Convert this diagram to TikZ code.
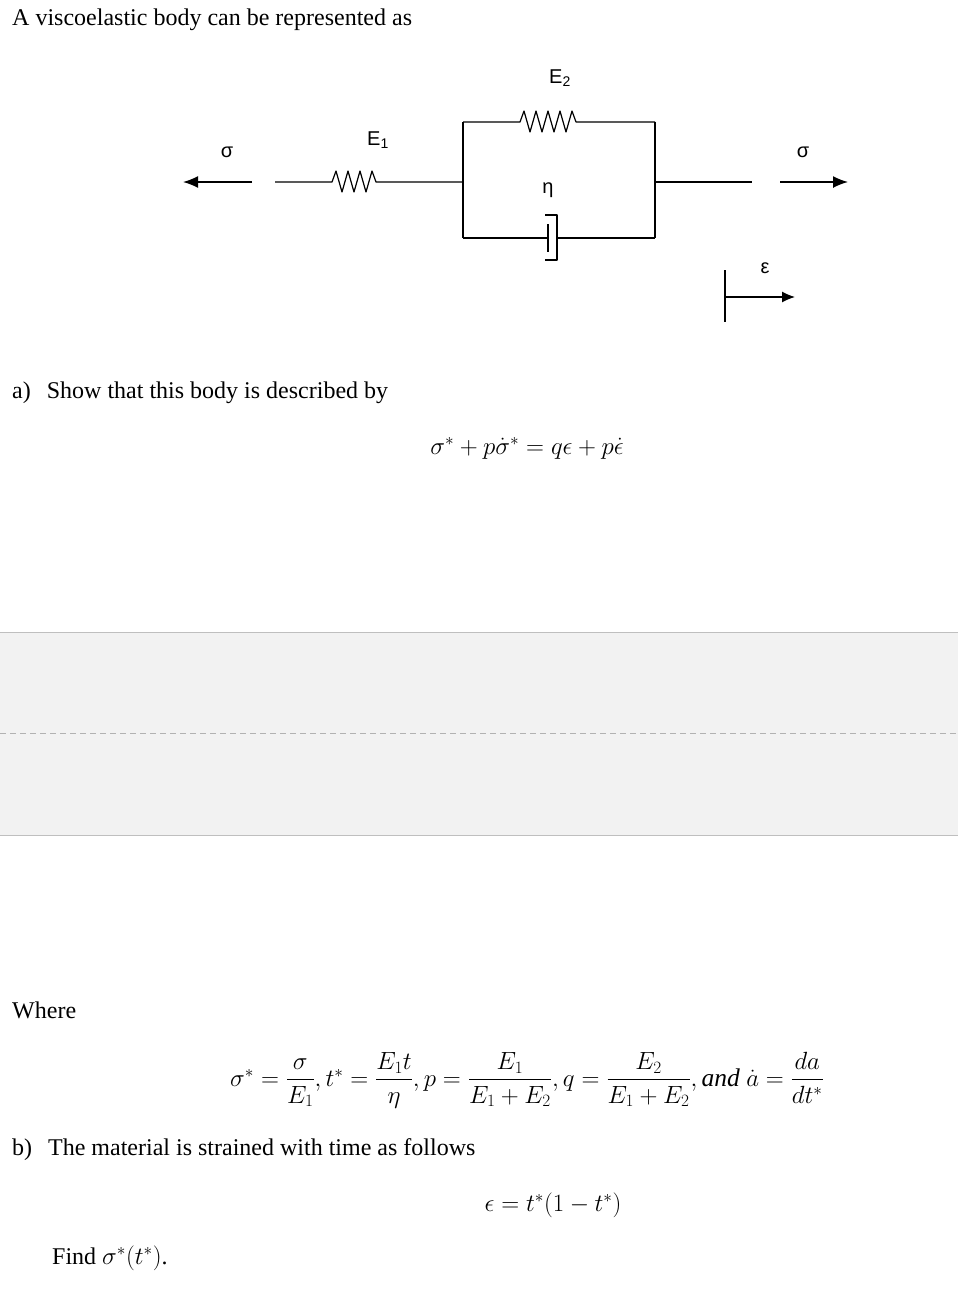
\documentclass[tikz,border=0pt]{standalone}
\usepackage{amsmath}
\usepackage{fontspec}
\setmainfont{Liberation Serif}
\newfontfamily\diag{Liberation Sans}
\usetikzlibrary{arrows.meta}
\begin{document}
\begin{tikzpicture}[x=1pt,y=-1pt,
  txt/.style={anchor=west,inner sep=0pt,font=\fontsize{24}{28}\selectfont},
  mth/.style={inner sep=0pt,font=\fontsize{25.5}{30}\selectfont},
  lbl/.style={inner sep=0pt,font=\diag\fontsize{20}{22}\selectfont},
  wire/.style={line width=1.2pt,line join=round},
  arr/.style={line width=1.5pt,-{Latex[length=15pt,width=12pt]}}]
\useasboundingbox (0,0) rectangle (958,1304);
\fill[white] (0,0) rectangle (958,1304);
% band
\fill[gray!10] (0,632) rectangle (958,835);
\draw[gray!50,line width=1pt] (0,632) -- (958,632) (0,835) -- (958,835);
\draw[gray!60,dashed,dash pattern=on 6pt off 4pt] (0,733) -- (958,733);
% texts
\node[txt] (t1) at (12,20) {A viscoelastic body can be represented as};
\node[txt] (t2) at (12,393) {a)\hspace{16pt}Show that this body is described by};
\node[mth] (e1) at (527,448) {$\sigma^* + p\dot{\sigma}^* = q\epsilon + p\dot{\epsilon}$};
\node[txt] (t3) at (12,1010) {Where};
\node[mth] (e2) at (527,1080) {$\sigma^*=\dfrac{\sigma}{E_1},t^*=\dfrac{E_1t}{\eta},p=\dfrac{E_1}{E_1+E_2},q=\dfrac{E_2}{E_1+E_2},\mathit{and}\ \dot{a}=\dfrac{da}{dt^*}$};
\node[txt] (t4) at (12,1150) {b)\hspace{16pt}The material is strained with time as follows};
\node[mth] (e3) at (553,1205) {$\epsilon=t^*(1-t^*)$};
\node[txt] (t5) at (52,1258) {Find $\sigma^*(t^*)$.};
% diagram
\coordinate (la1) at (252,182); \coordinate (la2) at (183,182);
\draw[arr] (la1) -- (la2);
\coordinate (ra1) at (780,182); \coordinate (ra2) at (848,182);
\draw[arr] (ra1) -- (ra2);
\node[lbl] (s1) at (227,152) {σ};
\node[lbl] (s2) at (803,152) {σ};
\node[lbl] (lE1) at (378,140) {E\textsubscript{1}};
\node[lbl] (lE2) at (560,78) {E\textsubscript{2}};
\node[lbl] (leta) at (548,190) {η};
\node[lbl] (leps) at (765,268) {ε};
% E1 spring line
\draw[wire] (275,182) -- (332,182) -- (336,171) -- (342,192) -- (348,171) -- (354,192) -- (360,171) -- (366,192) -- (372,171) -- (376,182) -- (463,182);
% box
\draw[wire] (463,122) -- (463,238);
\draw[wire] (655,122) -- (655,238);
\draw[wire] (463,122) -- (520,122) -- (524,111) -- (530,132) -- (536,111) -- (542,132) -- (548,111) -- (554,132) -- (560,111) -- (566,132) -- (572,111) -- (576,122) -- (655,122);
% dashpot
\draw[wire] (463,238) -- (548,238);
\draw[wire] (548,224) -- (548,252);
\draw[wire] (545,215) -- (557,215) -- (557,260) -- (545,260);
\draw[wire] (557,238) -- (655,238);
\draw[wire] (655,182) -- (752,182);
% strain marker
\draw[wire] (725,270) -- (725,322);
\draw[line width=1.2pt,-{Latex[length=13pt,width=11pt]}] (725,297) -- (795,297);
\end{tikzpicture}
\end{document}
